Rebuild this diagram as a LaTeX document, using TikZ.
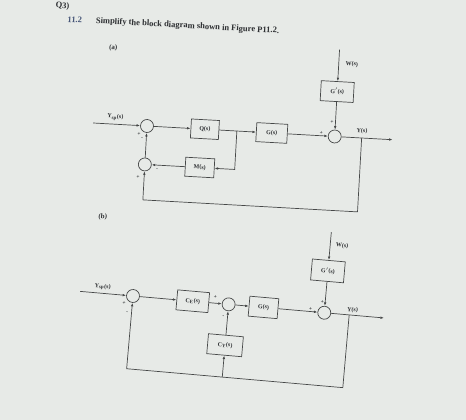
\documentclass[tikz,border=0pt]{standalone}
\usepackage{fontspec}
\setmainfont{Liberation Serif}
\usetikzlibrary{arrows.meta}
\definecolor{bg}{RGB}{231,234,231}
\definecolor{ink}{RGB}{70,72,72}
\definecolor{txt}{RGB}{45,47,50}
\definecolor{num}{RGB}{70,85,120}
\tikzset{
  sumc/.style={circle,draw=ink,line width=0.7pt,minimum size=13pt,inner sep=0pt},
  blk/.style={draw=ink,line width=0.7pt,minimum height=19pt,inner sep=0pt,
    font=\fontsize{6}{7}\selectfont\bfseries,text=txt},
  wire/.style={draw=ink,line width=0.7pt},
  arr/.style={wire,-{Latex[length=3.5pt,width=2.6pt]}},
  lbl/.style={font=\fontsize{6}{7}\selectfont\bfseries,text=txt,inner sep=0pt},
  sgn/.style={font=\fontsize{5.5}{5.5}\selectfont\bfseries,text=txt,inner sep=0pt},
  ttl/.style={font=\fontsize{8.5}{10}\selectfont\bfseries,text=txt,inner sep=0pt},
}
\begin{document}
\begin{tikzpicture}[x=1pt,y=-1pt]
\fill[bg] (0,0) rectangle (466,420);
\useasboundingbox (0,0) rectangle (466,420);

% ---------- part (a) and title ----------
\begin{scope}[shift={(147,126)},rotate=-3.2,transform shape]
  \node[ttl] (q3) at (-91,-115) {Q3)};
  \node[ttl,text=num] (num) at (-78,-102) {11.2};
  \node[ttl,anchor=west] (title) at (-57,-102) {Simplify the block diagram shown in Figure P11.2.};
  \node[ttl,font=\fontsize{7}{8}\selectfont\bfseries] (la) at (-38,-76) {(a)};

  \node[sumc] (s1) at (0,0) {};
  \node[blk,minimum width=28pt] (Q) at (58,0) {Q(s)};
  \coordinate (br) at (90,0);
  \node[blk,minimum width=31pt] (G) at (125,0) {G(s)};
  \node[sumc] (s3) at (188,0) {};
  \coordinate (out) at (246,0);
  \coordinate (in) at (-54,0);
  \coordinate (ybr) at (215,0);
  \node[sumc] (s2) at (0,38.5) {};
  \node[blk,minimum width=29pt] (M) at (55,38.5) {M(s)};
  \coordinate (bl) at (0,74);
  \coordinate (brr) at (215,74);
  \node[blk,minimum width=33pt,minimum height=20pt] (Gp) at (188,-45) {G$'$(s)};
  \coordinate (w) at (188,-87);

  \node[lbl] (ysp) at (-32,-7) {Y\textsubscript{sp}(s)};
  \node[lbl] (wl) at (201,-73) {W(s)};
  \node[lbl] (yl) at (215,-7) {Y(s)};
  \node[sgn] at (-7.5,8.5) {+};
  \node[sgn] at (-4.3,13.3) {-};
  \node[sgn] at (12.5,43.5) {-};
  \node[sgn] at (-6,51.5) {+};
  \node[sgn] at (174.5,-3) {+};
  \node[sgn] at (184.5,-14.5) {+};

  \draw[arr] (in) -- (s1);
  \draw[arr] (s1) -- (Q);
  \draw[arr] (Q) -- (G);
  \draw[arr] (br) |- (M);
  \draw[arr] (M) -- (s2);
  \draw[arr] (s2) -- (s1);
  \draw[arr] (G) -- (s3);
  \draw[arr] (s3) -- (out);
  \draw[arr] (w) -- (Gp);
  \draw[arr] (Gp) -- (s3);
  \draw[arr] (ybr) -- (brr) -- (bl) -- (s2);
\end{scope}

% ---------- part (b) ----------
\begin{scope}[shift={(133,296)},rotate=-5,transform shape]
  \node[ttl,font=\fontsize{7}{8}\selectfont\bfseries] (lb) at (-37,-76) {(b)};

  \node[sumc] (t1) at (0,0) {};
  \node[blk,minimum width=32pt,minimum height=20pt] (CE) at (60,0) {C\textsubscript{E}(s)};
  \node[sumc] (t2) at (96,0) {};
  \node[blk,minimum width=29pt,minimum height=20pt] (G2) at (131,0) {G(s)};
  \node[sumc] (t3) at (192,0) {};
  \coordinate (out2) at (252,0);
  \coordinate (in2) at (-53,0);
  \coordinate (ybr2) at (217,0);
  \node[blk,minimum width=35pt,minimum height=20pt] (CY) at (96,41) {C\textsubscript{Y}(s)};
  \coordinate (bl2) at (0,73);
  \coordinate (bm2) at (96,73);
  \coordinate (br2) at (217,73);
  \node[blk,minimum width=33pt,minimum height=21pt] (Gp2) at (192,-42) {G$'$(s)};
  \coordinate (w2) at (192,-81);

  \node[lbl] (ysp2) at (-31,-6.5) {Y\textsubscript{sp}(s)};
  \node[lbl] (wl2) at (204,-68) {W(s)};
  \node[lbl] (yl2) at (220,-5) {Y(s)};
  \node[sgn] at (-8.4,7.8) {+};
  \node[sgn] at (-4.5,17.5) {-};
  \node[sgn] at (82,-6.2) {+};
  \node[sgn] at (91.8,13) {-};
  \node[sgn] at (178,-2) {+};
  \node[sgn] at (189,-10.5) {+};

  \draw[arr] (in2) -- (t1);
  \draw[arr] (t1) -- (CE);
  \draw[arr] (CE) -- (t2);
  \draw[arr] (t2) -- (G2);
  \draw[arr] (G2) -- (t3);
  \draw[arr] (t3) -- (out2);
  \draw[arr] (w2) -- (Gp2);
  \draw[arr] (Gp2) -- (t3);
  \draw[arr] (ybr2) -- (br2) -- (bl2) -- (t1);
  \draw[arr] (bm2) -- (CY);
  \draw[arr] (CY) -- (t2);
\end{scope}
\end{tikzpicture}
\end{document}
